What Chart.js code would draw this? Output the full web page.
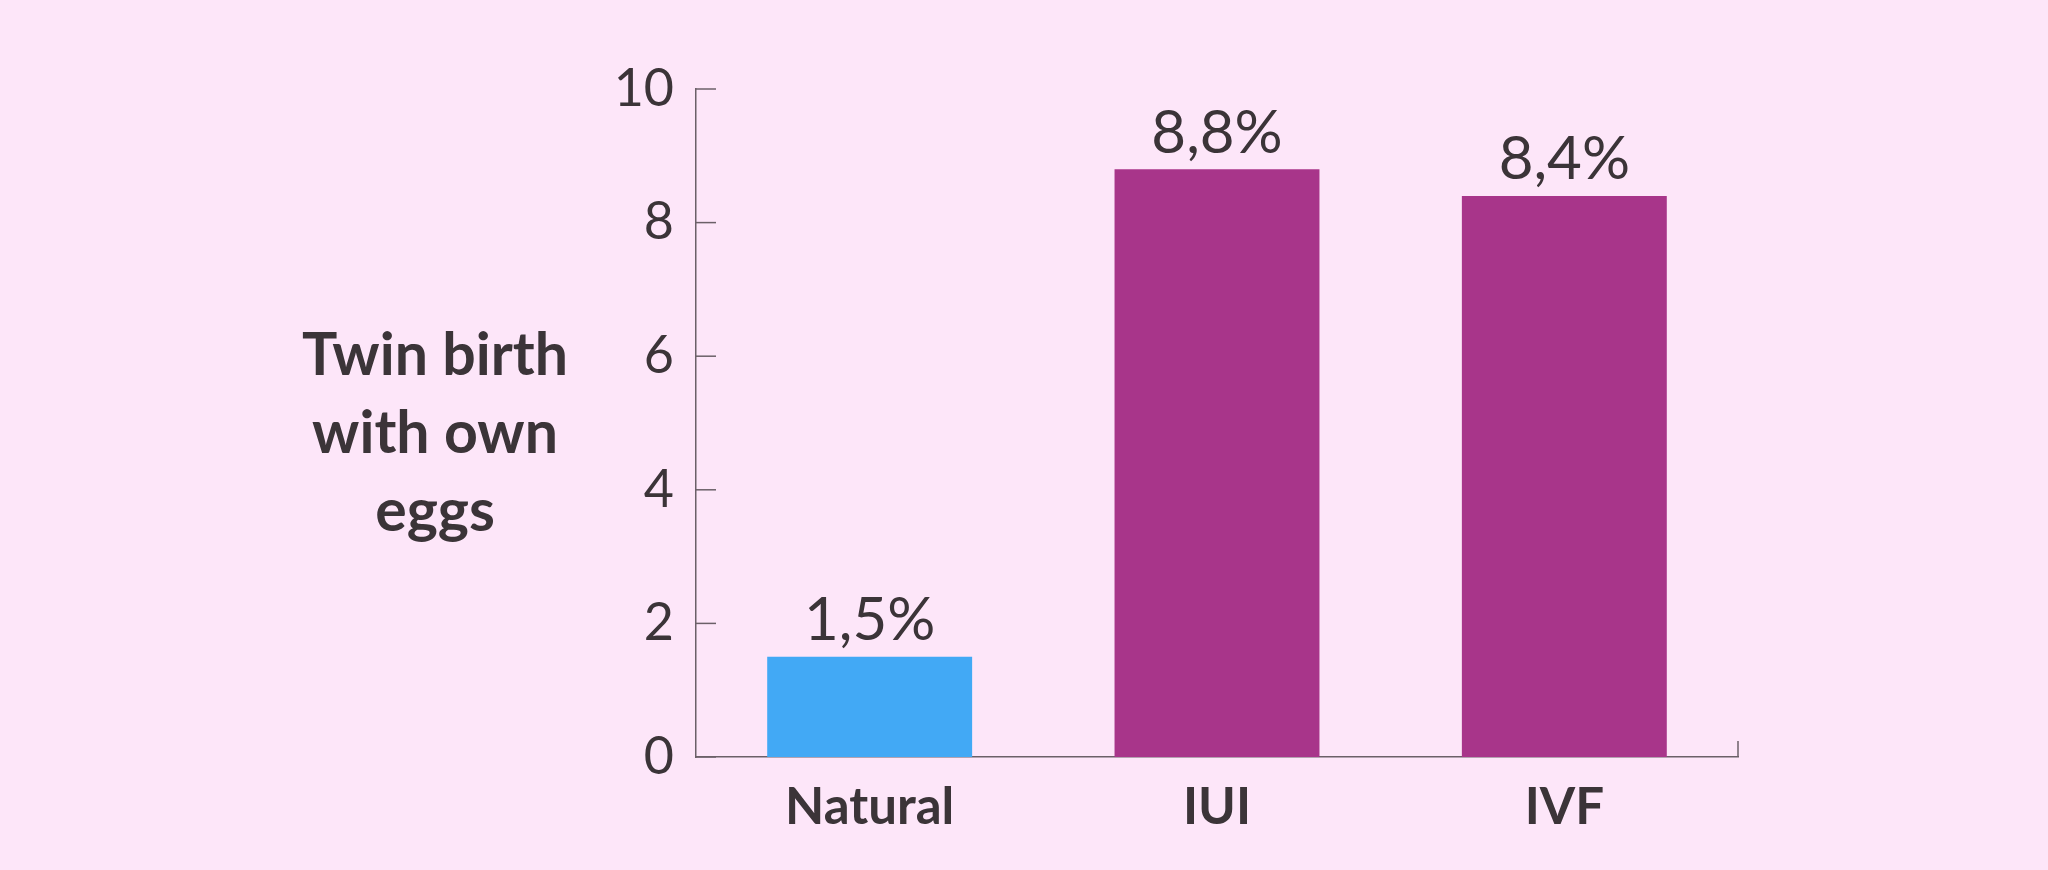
<!DOCTYPE html>
<html lang="en">
<head>
  <meta charset="UTF-8">
  <title>Twin birth with own eggs</title>
  <script src="https://cdn.jsdelivr.net/npm/chart.js"></script>
  <style>
    body { margin: 0; background: #fde6f9; }
    #wrap { width: 2048px; height: 870px; }
  </style>
</head>
<body>
  <div id="wrap"><canvas id="twinChart" width="2048" height="870"></canvas></div>
  <script>
    const categories = ['Natural', 'IUI', 'IVF'];
    const values = [1.5, 8.8, 8.4];
    const valueLabels = ['1,5%', '8,8%', '8,4%'];
    const barColors = ['#42a9f5', '#a8358a', '#a8358a'];
    const titleLines = ['Twin birth', 'with own', 'eggs'];

    const textColor = '#3b3438';
    const axisColor = '#6b6068';

    // Custom drawing: y title, tick marks, value labels, x-axis end tick
    const extras = {
      id: 'extras',
      afterDraw(chart) {
        const ctx = chart.ctx;
        const y = chart.scales.y;
        const area = chart.chartArea;
        ctx.save();
        ctx.strokeStyle = axisColor;
        ctx.lineWidth = 1.5;
        // y ticks pointing inside
        y.ticks.forEach(t => {
          const py = y.getPixelForValue(t.value);
          ctx.beginPath();
          ctx.moveTo(area.left, py);
          ctx.lineTo(area.left + 20, py);
          ctx.stroke();
        });
        // x end tick
        ctx.beginPath();
        ctx.moveTo(area.right, area.bottom);
        ctx.lineTo(area.right, area.bottom - 16);
        ctx.stroke();

        // value labels
        ctx.fillStyle = textColor;
        ctx.font = '60px Lato';
        ctx.textAlign = 'center';
        ctx.textBaseline = 'bottom';
        const meta = chart.getDatasetMeta(0);
        meta.data.forEach((bar, i) => {
          ctx.fillText(valueLabels[i], bar.x, bar.y - 6);
        });

        // y title
        ctx.font = 'bold 59px Lato';
        ctx.textBaseline = 'middle';
        titleLines.forEach((line, i) => {
          ctx.fillText(line, 435, 356 + i * 78);
        });
        ctx.restore();
      }
    };

    new Chart(document.getElementById('twinChart').getContext('2d'), {
      type: 'bar',
      data: {
        labels: categories,
        datasets: [{
          data: values,
          backgroundColor: barColors,
          categoryPercentage: 1,
          barPercentage: 0.59
        }]
      },
      options: {
        responsive: false,
        animation: false,
        layout: { padding: { top: 89, right: 310, bottom: 0, left: 0 } },
        plugins: { legend: { display: false }, tooltip: { enabled: false } },
        scales: {
          x: {
            grid: { display: false },
            border: { color: axisColor, width: 1.5 },
            ticks: { color: textColor, font: { family: 'Lato', size: 51, weight: 'bold' }, padding: 12 },
            afterFit(scale) { scale.height = 113; }
          },
          y: {
            min: 0,
            max: 10,
            grid: { display: false },
            border: { color: axisColor, width: 1.5 },
            ticks: { stepSize: 2, color: textColor, font: { family: 'Lato', size: 52 }, padding: 14 },
            afterFit(scale) { scale.width = 696; }
          }
        }
      },
      plugins: [extras]
    });
  </script>
</body>
</html>
